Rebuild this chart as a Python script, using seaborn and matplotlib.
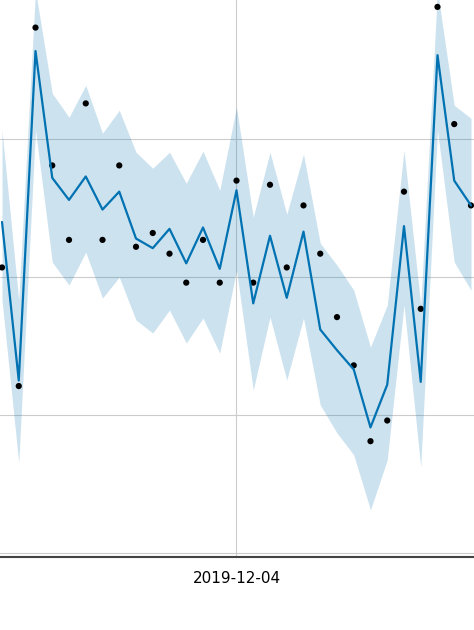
import matplotlib
matplotlib.use("Agg")
import matplotlib.pyplot as plt
import matplotlib.dates as mdates
import seaborn as sns
import pandas as pd

dates = pd.date_range("2019-11-20", periods=29, freq="D")
actual = [2.07, 1.21, 3.81, 2.81, 2.27, 3.26, 2.27, 2.81, 2.22, 2.32, 2.17, 1.96, 2.27, 1.96, 2.70,
          1.96, 2.67, 2.07, 2.52, 2.17, 1.71, 1.36, 0.81, 0.96, 2.62, 1.77, 3.96, 3.11, 2.52]
yhat = [2.40, 1.25, 3.64, 2.72, 2.56, 2.73, 2.49, 2.62, 2.28, 2.21, 2.35, 2.10, 2.36, 2.06, 2.63,
        1.81, 2.30, 1.85, 2.33, 1.62, 1.47, 1.33, 0.91, 1.22, 2.37, 1.24, 3.61, 2.70, 2.52]
upper_px = [130, 300, -10, 93, 117, 85, 133, 110, 152, 168, 152, 183, 151, 190, 107, 217, 152, 214, 154,
            243, 265, 290, 347, 305, 150, 305, -10, 105, 118]
lower_px = [300, 463, 130, 262, 285, 252, 298, 277, 320, 333, 310, 343, 318, 353, 270, 390, 317, 380, 318,
            405, 433, 455, 510, 460, 305, 467, 130, 262, 290]
upper = [(553 - p) / 138 for p in upper_px]
lower = [(553 - p) / 138 for p in lower_px]

df = pd.DataFrame({"ds": dates, "y": actual, "yhat": yhat})

sns.set_style("white")
fig = plt.figure(figsize=(4.74, 6.3), dpi=100)
ax = fig.add_axes([0, 73 / 630, 1, 1 - 73 / 630])

ax.fill_between(dates, lower, upper, color="#0072B2", alpha=0.2, linewidth=0)
sns.lineplot(data=df, x="ds", y="yhat", ax=ax, color="#0072B2", linewidth=1.6)
sns.scatterplot(data=df, x="ds", y="y", ax=ax, color="black", s=20, edgecolor="none")

ax.set_xlim(dates[0] - pd.Timedelta(days=0.12), dates[0] + pd.Timedelta(days=28.18))
ax.set_ylim(-0.03, 4.01)
ax.set_xticks([pd.Timestamp("2019-12-04")])
ax.xaxis.set_major_formatter(mdates.DateFormatter("%Y-%m-%d"))
ax.set_yticks([0, 1, 2, 3])
ax.set_yticklabels([])
ax.tick_params(axis="y", length=0)
ax.tick_params(axis="x", length=4, width=1, color="#333333", labelsize=11, labelcolor="black", pad=6)
ax.grid(True, color="#cccccc", linewidth=0.8)
ax.set_xlabel("")
ax.set_ylabel("")
for s in ["top", "right", "left"]:
    ax.spines[s].set_visible(False)
ax.spines["bottom"].set_color("#444444")
ax.spines["bottom"].set_linewidth(1.5)

fig.savefig("out.png", dpi=100)
